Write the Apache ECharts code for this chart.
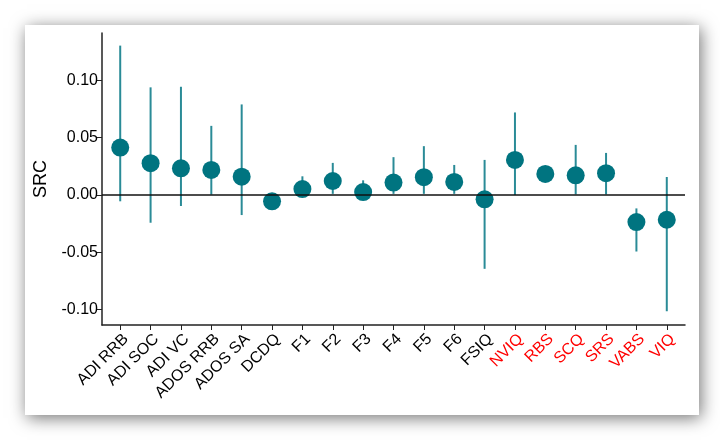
<!DOCTYPE html>
<html>
<head>
<meta charset="utf-8">
<script src="https://cdn.jsdelivr.net/npm/echarts@6/dist/echarts.min.js"></script>
<style>
html,body{margin:0;padding:0;background:#fff;}
#chart{width:720px;height:440px;}
</style>
</head>
<body>
<div id="chart"></div>
<script>
const categories = ['ADI RRB','ADI SOC','ADI VC','ADOS RRB','ADOS SA','DCDQ','F1','F2','F3','F4','F5','F6','FSIQ','NVIQ','RBS','SCQ','SRS','VABS','VIQ'];
const src   = [0.0414,0.0277,0.0233,0.0219,0.0160,-0.0055,0.0052,0.0122,0.0026,0.0108,0.0155,0.0114,-0.0038,0.0306,0.0184,0.0172,0.0190,-0.0236,-0.0216];
const lower = [-0.0055,-0.0242,-0.0096,0.0003,-0.0175,-0.0080,0.0000,0.0010,-0.0040,0.0010,0.0010,0.0010,-0.0644,0.0000,0.0140,0.0005,0.0005,-0.0493,-0.1014];
const upper = [0.1303,0.0939,0.0944,0.0603,0.0790,-0.0030,0.0163,0.0280,0.0128,0.0330,0.0426,0.0262,0.0306,0.0720,0.0230,0.0437,0.0367,-0.0117,0.0157];
const redLabel = [false,false,false,false,false,false,false,false,false,false,false,false,false,true,true,true,true,true,true];
const yTicks = [-0.10,-0.05,0.00,0.05,0.10];

const xPos = categories.map((c,i)=>i+1);
const chart = echarts.init(document.getElementById('chart'));
const FONT = 'Liberation Sans, Arial, sans-serif';

chart.setOption({
  animation:false,
  backgroundColor:'#fff',
  graphic:[{
    type:'rect', z:-1, silent:true,
    shape:{x:25,y:25,width:674,height:390},
    style:{fill:'#fff',shadowBlur:16,shadowColor:'rgba(0,0,0,0.55)',shadowOffsetX:2,shadowOffsetY:3}
  }],
  grid:{left:102,right:35,top:33,bottom:115,containLabel:false},
  xAxis:{
    type:'value', min:0.4, max:19.6,
    splitLine:{show:false},
    axisLine:{show:true,onZero:false,lineStyle:{color:'#222',width:1.5}},
    axisTick:{show:true,customValues:xPos,length:5,lineStyle:{color:'#222',width:1}},
    axisLabel:{
      customValues:xPos, rotate:45, margin:6, verticalAlign:'top',
      fontFamily:FONT, fontSize:16,
      formatter:function(v){const i=Math.round(v)-1; return redLabel[i]?'{r|'+categories[i]+'}':'{k|'+categories[i]+'}';},
      rich:{
        r:{color:'#ff0000',fontFamily:FONT,fontSize:16},
        k:{color:'#000',fontFamily:FONT,fontSize:16}
      }
    }
  },
  yAxis:{
    type:'value', min:-0.1134, max:0.1413,
    name:'SRC', nameLocation:'middle', nameRotate:90, nameGap:52,
    nameTextStyle:{color:'#000',fontFamily:FONT,fontSize:18},
    splitLine:{show:false},
    axisLine:{show:true,onZero:false,lineStyle:{color:'#222',width:1.5}},
    axisTick:{show:true,customValues:yTicks,length:5,lineStyle:{color:'#222',width:1}},
    axisLabel:{customValues:yTicks,color:'#000',fontFamily:FONT,fontSize:16,margin:4,
      formatter:function(v){return v.toFixed(2);}}
  },
  series:[
    {
      type:'custom', z:2,
      data:xPos.map((x,i)=>[x,lower[i],upper[i]]),
      renderItem:function(params,api){
        const p1=api.coord([api.value(0),api.value(1)]);
        const p2=api.coord([api.value(0),api.value(2)]);
        return {type:'line',shape:{x1:p1[0],y1:p1[1],x2:p2[0],y2:p2[1]},style:{stroke:'#2a8b97',lineWidth:2}};
      },
      markLine:{
        silent:true, symbol:['none','none'], label:{show:false},
        lineStyle:{color:'#111',width:1.5,type:'solid'},
        data:[{yAxis:0}]
      }
    },
    {
      type:'scatter', z:3,
      symbol:'circle', symbolSize:18,
      itemStyle:{color:'#007480',opacity:1},
      data:xPos.map((x,i)=>[x,src[i]])
    }
  ]
});
</script>
</body>
</html>
